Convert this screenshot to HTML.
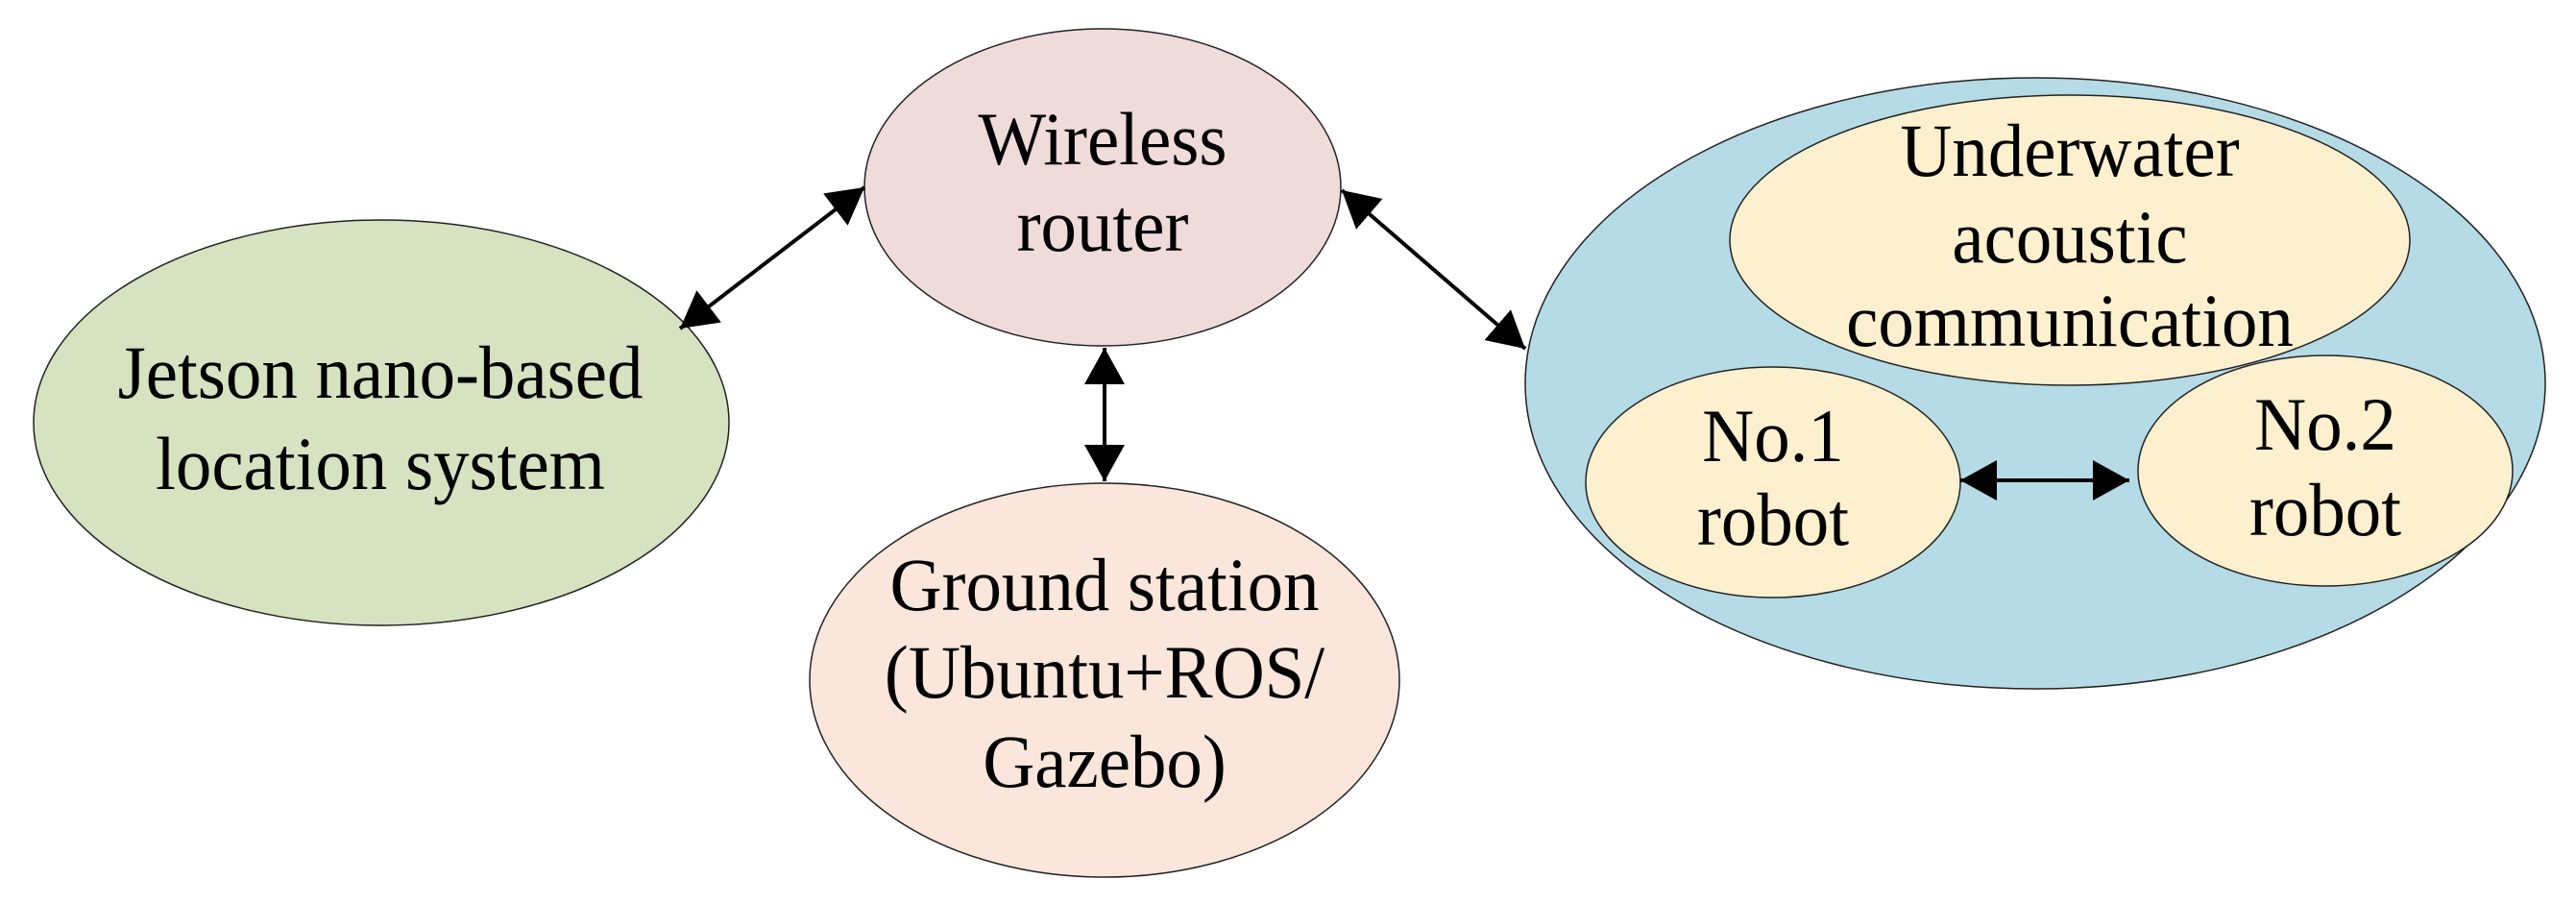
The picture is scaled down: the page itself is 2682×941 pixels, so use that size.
<!DOCTYPE html>
<html><head><meta charset="utf-8"><style>
html,body{margin:0;padding:0;background:#fff;}
svg{display:block;}
text{font-family:"Liberation Serif","Times New Roman",serif;font-size:78px;fill:#000;text-anchor:middle;}
</style></head><body>
<svg width="2682" height="941" viewBox="0 0 2682 941" xmlns="http://www.w3.org/2000/svg">
<defs>
<marker id="ah" markerWidth="40" markerHeight="42" refX="38" refY="21" orient="auto-start-reverse" markerUnits="userSpaceOnUse">
<path d="M0,0 L38,21 L0,42 Z" fill="#000"/>
</marker>
</defs>
<g stroke="#222" stroke-width="1.5">
<ellipse cx="397" cy="440" rx="362" ry="211" fill="#d6e2c0"/>
<ellipse cx="1148" cy="195" rx="248" ry="165" fill="#efdbda"/>
<ellipse cx="1150" cy="708" rx="307" ry="205" fill="#fae6da"/>
<ellipse cx="2119" cy="399" rx="531" ry="318" fill="#b5dbe6"/>
<ellipse cx="2155" cy="250" rx="354" ry="151" fill="#fdf0cf"/>
<ellipse cx="1846" cy="502" rx="195" ry="120" fill="#fdf0cf"/>
<ellipse cx="2421" cy="490" rx="195" ry="120" fill="#fdf0cf"/>
</g>
<g stroke="#000" stroke-width="4">
<line x1="708" y1="342" x2="900" y2="195" marker-start="url(#ah)" marker-end="url(#ah)"/>
<line x1="1150" y1="362" x2="1150" y2="501" marker-start="url(#ah)" marker-end="url(#ah)"/>
<line x1="1397" y1="198" x2="1588" y2="363" marker-start="url(#ah)" marker-end="url(#ah)"/>
<line x1="2041" y1="500" x2="2217" y2="500" marker-start="url(#ah)" marker-end="url(#ah)"/>
</g>
<g transform="translate(396,0) scale(0.96,1)"><text x="0" y="414">Jetson nano-based</text><text x="0" y="509">location system</text></g>
<g transform="translate(1148,0) scale(0.96,1)"><text x="0" y="171">Wireless</text><text x="0" y="261">router</text></g>
<g transform="translate(1150,0) scale(0.96,1)"><text x="0" y="635">Ground station</text><text x="0" y="726">(Ubuntu+ROS/</text><text x="0" y="819">Gazebo)</text></g>
<g transform="translate(2155,0) scale(0.96,1)"><text x="0" y="183">Underwater</text><text x="0" y="273">acoustic</text><text x="0" y="360">communication</text></g>
<g transform="translate(1846,0) scale(0.96,1)"><text x="0" y="480">No.1</text><text x="0" y="567">robot</text></g>
<g transform="translate(2421,0) scale(0.96,1)"><text x="0" y="468">No.2</text><text x="0" y="557">robot</text></g>
</svg>
</body></html>
